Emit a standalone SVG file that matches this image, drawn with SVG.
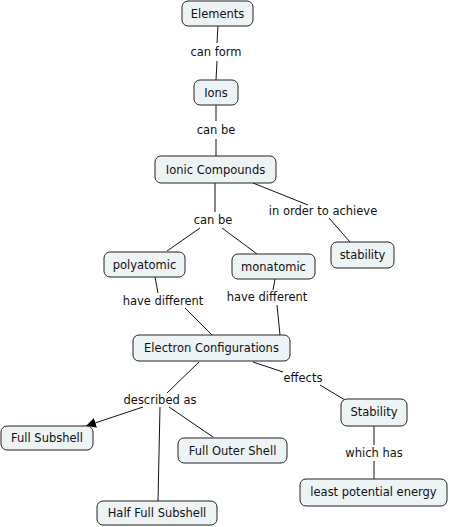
<svg xmlns="http://www.w3.org/2000/svg" width="450" height="527" viewBox="0 0 450 527">
<style>
.n rect{fill:#eef3f6;stroke:#222;stroke-width:1;}
text{font-family:"DejaVu Sans",Verdana,sans-serif;font-size:11.5px;fill:#111;text-anchor:middle;dominant-baseline:central;}
.c line{stroke:#111;stroke-width:1;}
</style>
<defs>
<marker id="ah" viewBox="0 0 10 10" refX="10" refY="5" markerWidth="10" markerHeight="10" markerUnits="userSpaceOnUse" orient="auto"><path d="M0,0 L10,5 L0,10 z" fill="#000"/></marker>
</defs>
<rect width="450" height="527" fill="#fff"/>
<g class="c">
<line x1="218" y1="26" x2="217" y2="43"/>
<line x1="217" y1="61" x2="216" y2="80"/>
<line x1="216" y1="105" x2="216" y2="121"/>
<line x1="216" y1="139" x2="216" y2="156"/>
<line x1="215" y1="183" x2="215" y2="212"/>
<line x1="200" y1="228" x2="167" y2="251"/>
<line x1="222" y1="228" x2="257" y2="254"/>
<line x1="253" y1="183" x2="308" y2="205"/>
<line x1="329" y1="218" x2="350" y2="242"/>
<line x1="155" y1="277" x2="158" y2="293"/>
<line x1="185" y1="308" x2="212" y2="335"/>
<line x1="275" y1="279" x2="273" y2="290"/>
<line x1="277" y1="305" x2="280" y2="335"/>
<line x1="199" y1="362" x2="167" y2="393"/>
<line x1="143" y1="407" x2="86" y2="426" marker-end="url(#ah)"/>
<line x1="160" y1="407" x2="158" y2="501"/>
<line x1="169" y1="407" x2="213" y2="437"/>
<line x1="253" y1="362" x2="283" y2="372"/>
<line x1="320" y1="385" x2="345" y2="400"/>
<line x1="374" y1="426" x2="374" y2="445"/>
<line x1="374" y1="461" x2="374" y2="479"/>
</g>
<g id="elements" class="n"><rect x="182" y="1" width="71" height="25" rx="6"/><text x="217.5" y="14">Elements</text></g>
<g id="ions" class="n"><rect x="194" y="80" width="44" height="25" rx="6"/><text x="216" y="93">Ions</text></g>
<g id="ionic" class="n"><rect x="155" y="156" width="121" height="27" rx="6"/><text x="215.5" y="170">Ionic Compounds</text></g>
<g id="polyatomic" class="n"><rect x="104" y="252" width="81" height="25" rx="6"/><text x="144.5" y="265">polyatomic</text></g>
<g id="monatomic" class="n"><rect x="232" y="254" width="83" height="25" rx="6"/><text x="273.5" y="267">monatomic</text></g>
<g id="stability1" class="n"><rect x="331" y="242" width="63" height="26" rx="6"/><text x="362.5" y="255">stability</text></g>
<g id="econf" class="n"><rect x="133" y="335" width="157" height="26" rx="6"/><text x="211.5" y="348">Electron Configurations</text></g>
<g id="fullsub" class="n"><rect x="1" y="426" width="92" height="24" rx="6"/><text x="47" y="438">Full Subshell</text></g>
<g id="fullouter" class="n"><rect x="178" y="438" width="109" height="25" rx="6"/><text x="232.5" y="451">Full Outer Shell</text></g>
<g id="halffull" class="n"><rect x="97" y="501" width="120" height="24" rx="6"/><text x="157" y="513">Half Full Subshell</text></g>
<g id="stability2" class="n"><rect x="341" y="399" width="66" height="27" rx="6"/><text x="374" y="412">Stability</text></g>
<g id="leastpe" class="n"><rect x="300" y="479" width="147" height="27" rx="6"/><text x="373.5" y="492">least potential energy</text></g>
<g id="labels">
<text x="216" y="52">can form</text>
<text x="216" y="130">can be</text>
<text x="213" y="220">can be</text>
<text x="323" y="211">in order to achieve</text>
<text x="163" y="301">have different</text>
<text x="267" y="297">have different</text>
<text x="160" y="400">described as</text>
<text x="303" y="378">effects</text>
<text x="374" y="453">which has</text>
</g>
</svg>
